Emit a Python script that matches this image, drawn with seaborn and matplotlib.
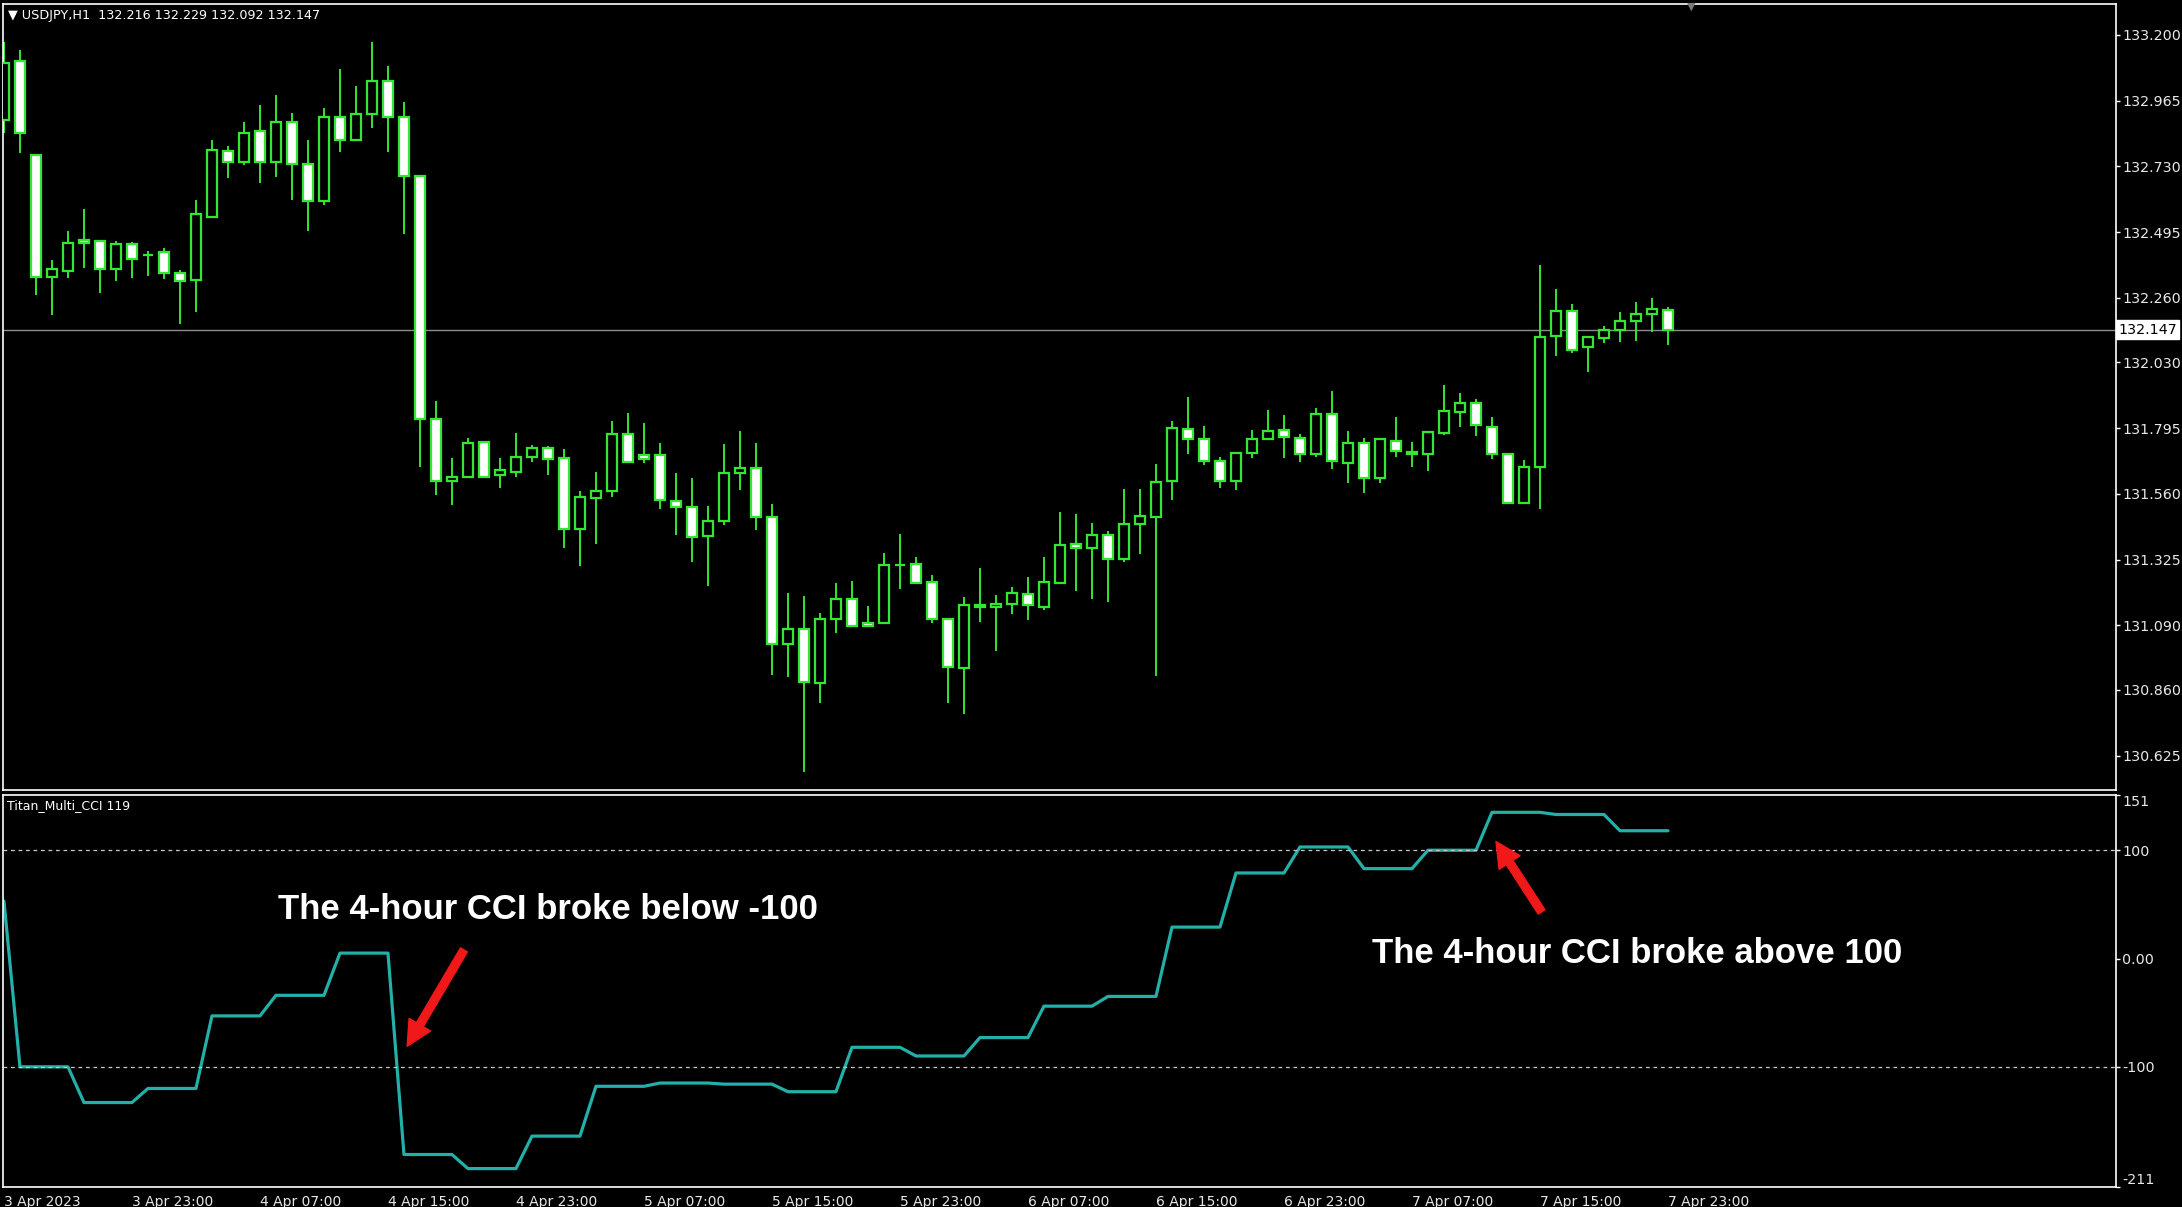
import numpy as np
import pandas as pd
import seaborn as sns
from matplotlib import pyplot as plt
from matplotlib import transforms

# USDJPY H1 candles, 3 Apr 2023 15:00 .. 7 Apr 2023 23:00
opens = [132.896, 133.107, 132.771, 132.336, 132.357, 132.467, 132.464, 132.362, 132.452, 132.412,
         132.423, 132.350, 132.323, 132.550, 132.786, 132.747, 132.856, 132.747, 132.887, 132.737,
         132.607, 132.905, 132.823, 132.916, 133.036, 132.905, 132.697, 131.827, 131.606, 131.621,
         131.746, 131.627, 131.639, 131.690, 131.723, 131.687, 131.433, 131.546, 131.571, 131.773,
         131.699, 131.699, 131.536, 131.512, 131.410, 131.464, 131.633, 131.653, 131.476, 131.022,
         131.078, 130.883, 131.112, 131.184, 131.100, 131.097, 131.305, 131.308, 131.244, 131.112,
         130.937, 131.162, 131.155, 131.165, 131.201, 131.157, 131.243, 131.380, 131.365, 131.413,
         131.328, 131.451, 131.476, 131.607, 131.792, 131.755, 131.677, 131.607, 131.707, 131.755,
         131.787, 131.758, 131.701, 131.844, 131.671, 131.743, 131.616, 131.749, 131.708, 131.701,
         131.779, 131.851, 131.886, 131.800, 131.701, 131.528, 131.657, 132.125, 132.213, 132.086,
         132.116, 132.145, 132.177, 132.201, 132.216]
highs = [133.175, 133.146, 132.772, 132.395, 132.500, 132.578, 132.466, 132.463, 132.461, 132.428,
         132.437, 132.360, 132.610, 132.824, 132.803, 132.890, 132.949, 132.985, 132.922, 132.824,
         132.937, 133.077, 133.018, 133.174, 133.089, 132.961, 132.700, 131.893, 131.687, 131.758,
         131.748, 131.687, 131.776, 131.734, 131.731, 131.719, 131.571, 131.639, 131.821, 131.850,
         131.814, 131.743, 131.636, 131.616, 131.516, 131.738, 131.786, 131.743, 131.523, 131.207,
         131.195, 131.135, 131.243, 131.250, 131.159, 131.350, 131.415, 131.333, 131.270, 131.115,
         131.190, 131.294, 131.199, 131.228, 131.264, 131.333, 131.494, 131.487, 131.457, 131.428,
         131.577, 131.576, 131.667, 131.821, 131.907, 131.802, 131.690, 131.710, 131.788, 131.860,
         131.842, 131.774, 131.866, 131.928, 131.786, 131.758, 131.757, 131.833, 131.746, 131.785,
         131.949, 131.919, 131.898, 131.836, 131.704, 131.681, 132.378, 132.291, 132.238, 132.124,
         132.160, 132.211, 132.246, 132.261, 132.229]
lows = [132.848, 132.777, 132.270, 132.199, 132.330, 132.366, 132.276, 132.320, 132.330, 132.338,
        132.326, 132.167, 132.211, 132.547, 132.687, 132.735, 132.669, 132.693, 132.610, 132.500,
        132.592, 132.782, 132.820, 132.866, 132.782, 132.488, 131.655, 131.556, 131.520, 131.616,
        131.616, 131.580, 131.621, 131.675, 131.627, 131.368, 131.302, 131.381, 131.550, 131.669,
        131.671, 131.505, 131.413, 131.315, 131.231, 131.449, 131.574, 131.431, 130.913, 130.907,
        130.567, 130.814, 131.062, 131.085, 131.083, 131.095, 131.219, 131.240, 131.100, 130.814,
        130.773, 131.103, 130.999, 131.130, 131.109, 131.145, 131.240, 131.214, 131.184, 131.175,
        131.318, 131.345, 130.909, 131.538, 131.702, 131.663, 131.580, 131.574, 131.687, 131.753,
        131.687, 131.675, 131.690, 131.648, 131.600, 131.562, 131.600, 131.690, 131.657, 131.643,
        131.770, 131.800, 131.768, 131.683, 131.526, 131.526, 131.505, 132.052, 132.064, 131.996,
        132.100, 132.104, 132.107, 132.139, 132.092]
closes = [133.100, 132.850, 132.334, 132.362, 132.455, 132.457, 132.362, 132.452, 132.398, 132.415,
          132.350, 132.321, 132.559, 132.787, 132.745, 132.850, 132.747, 132.887, 132.737, 132.607,
          132.905, 132.824, 132.916, 133.036, 132.905, 132.697, 131.827, 131.606, 131.621, 131.743,
          131.621, 131.645, 131.693, 131.723, 131.684, 131.434, 131.548, 131.571, 131.773, 131.675,
          131.683, 131.538, 131.514, 131.407, 131.464, 131.633, 131.653, 131.476, 131.022, 131.078,
          130.887, 131.112, 131.183, 131.089, 131.089, 131.305, 131.307, 131.243, 131.112, 130.940,
          131.162, 131.155, 131.165, 131.205, 131.162, 131.244, 131.377, 131.365, 131.413, 131.328,
          131.451, 131.481, 131.601, 131.794, 131.755, 131.677, 131.607, 131.707, 131.755, 131.785,
          131.762, 131.701, 131.844, 131.677, 131.741, 131.616, 131.755, 131.713, 131.701, 131.780,
          131.855, 131.886, 131.806, 131.701, 131.528, 131.657, 132.121, 132.213, 132.074, 132.119,
          132.145, 132.179, 132.201, 132.219, 132.147]

# Titan_Multi_CCI: 4-hour CCI values, first one covers only the 15:00 bar, the rest 4 H1 bars each
cci_h4 = [53, -100, -133, -120, -53, -34, 5, -181, -194, -164, -118, -115, -116, -123,
          -82, -90, -73, -44, -35, 29, 79, 103, 83, 100, 135, 133, 118]
cci_h4_bars = [1] + [4] * 26

price_ticks = [133.200, 132.965, 132.730, 132.495, 132.260, 132.030,
               131.795, 131.560, 131.325, 131.090, 130.860, 130.625]
cci_ticks = [151, 100, 0, -100, -211]
cci_tick_labels = ['151', '100', '0.00', '-100', '-211']
time_labels = ['3 Apr 2023', '3 Apr 23:00', '4 Apr 07:00', '4 Apr 15:00', '4 Apr 23:00',
               '5 Apr 07:00', '5 Apr 15:00', '5 Apr 23:00', '6 Apr 07:00', '6 Apr 15:00',
               '6 Apr 23:00', '7 Apr 07:00', '7 Apr 15:00', '7 Apr 23:00']
last_price = 132.147

sns.set_style("dark", {"axes.facecolor": "black", "figure.facecolor": "black"})
plt.rcParams['font.family'] = ['DejaVu Sans']

W, H = 2182, 1207
fig = plt.figure(figsize=(W / 100, H / 100), dpi=100, facecolor='black')
ax = fig.add_axes([3 / W, 1 - 790 / H, 2113 / W, 786 / H])
ax2 = fig.add_axes([3 / W, 1 - 1187 / H, 2113 / W, 392 / H])

green = '#32e632'
df = pd.DataFrame({'open': opens, 'high': highs, 'low': lows, 'close': closes})
df['bar'] = np.arange(len(df))
df['bull'] = df['close'] >= df['open']
body_lo = df[['open', 'close']].min(axis=1)
body_h = (df['close'] - df['open']).abs().clip(lower=0.002)

ax.vlines(df['bar'], df['low'], df['high'], color=green, lw=1.4, zorder=2)
ax.bar(df['bar'], body_h, bottom=body_lo, width=0.62,
       color=np.where(df['bull'], 'black', 'white'), edgecolor=green, linewidth=1.6, zorder=3)
ax.axhline(last_price, color='#8c8c8c', lw=1.0, zorder=1)

ax.set_xlim(-0.06, 132)
ax.set_ylim(130.502, 133.310)
ax.set_xticks([])
ax.set_yticks(price_ticks)
ax.set_yticklabels([f'{p:.3f}' for p in price_ticks])
ax.yaxis.tick_right()
ax.tick_params(axis='y', colors='white', labelcolor='#e8e8e8', length=3, width=1,
               labelsize=10.3, pad=1.5)
trans = transforms.blended_transform_factory(ax.transAxes, ax.transData)
ax.text(1.0012, last_price, f'{last_price:.3f}', transform=trans, ha='left', va='center',
        color='black', fontsize=10.3,
        bbox=dict(boxstyle='square,pad=0.15', facecolor='white', edgecolor='white'))

# CCI panel
cci = pd.DataFrame({'bar': df['bar'], 'cci': np.repeat(cci_h4, cci_h4_bars)})
sns.lineplot(data=cci, x='bar', y='cci', ax=ax2, color='#22b0a8', lw=2.3)
for lvl in (100, -100):
    ax2.axhline(lvl, color='#c8c8c8', lw=0.9, ls=(0, (3, 3)))
ax2.set_xlim(-0.06, 132)
ax2.set_ylim(-211, 151)
ax2.set_xlabel('')
ax2.set_ylabel('')
ax2.set_yticks(cci_ticks)
ax2.set_yticklabels(cci_tick_labels)
ax2.yaxis.tick_right()
ax2.tick_params(axis='y', colors='white', labelcolor='#e8e8e8', length=3, width=1,
                labelsize=10.3, pad=1.5)
ylabs = ax2.get_yticklabels()
ylabs[0].set_verticalalignment('top')
ylabs[-1].set_verticalalignment('bottom')
ax2.set_xticks(np.arange(0, 105, 8))
ax2.set_xticklabels(time_labels)
ax2.tick_params(axis='x', colors='white', labelcolor='#e8e8e8', length=5, width=1,
                labelsize=10, pad=0.5)
for lab in ax2.get_xticklabels():
    lab.set_horizontalalignment('left')

for a in (ax, ax2):
    for s in a.spines.values():
        s.set_color('white')
        s.set_linewidth(1.2)
    a.grid(False)

# annotations
red = '#f01818'
ax2.text(17.1, 45, 'The 4-hour CCI broke below -100', color='white', fontsize=25,
         fontweight='bold', va='center', family=['Liberation Sans', 'DejaVu Sans'])
ax2.text(85.5, 5, 'The 4-hour CCI broke above 100', color='white', fontsize=25,
         fontweight='bold', va='center', family=['Liberation Sans', 'DejaVu Sans'])
arrow = dict(arrowstyle='simple,head_width=1.0,head_length=1.0,tail_width=0.32',
             color=red, shrinkA=0, shrinkB=0, mutation_scale=18)
ax2.annotate('', xy=(25.2, -81), xytext=(28.75, 8), arrowprops=arrow)
ax2.annotate('', xy=(93.25, 108), xytext=(96.1, 43), arrowprops=arrow)

fig.text(8 / W, 1 - 16 / H, '\u25bc USDJPY,H1  132.216 132.229 132.092 132.147',
         color='white', fontsize=9.2, va='center')
fig.text(7 / W, 1 - 806 / H, 'Titan_Multi_CCI 119', color='white', fontsize=9, va='center')
fig.text(1691 / W, 1 - 7 / H, '\u25bc', color='#7a7a7a', fontsize=8, ha='center', va='center')

fig.savefig('out.png', dpi=100, facecolor='black')
